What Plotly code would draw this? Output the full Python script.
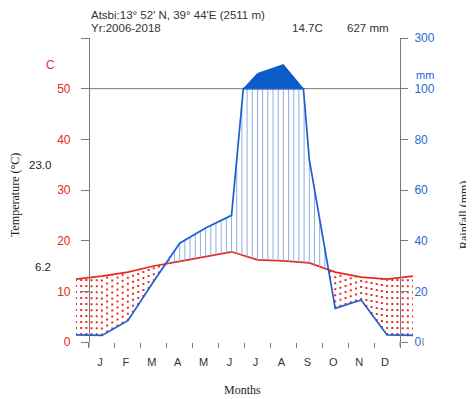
import numpy as np
import plotly.graph_objects as go

# ---------------- data ----------------
months = ["J", "F", "M", "A", "M", "J", "J", "A", "S", "O", "N", "D"]
temp_c = [13.0, 13.8, 15.0, 15.9, 16.9, 17.8, 16.2, 16.0, 15.6, 13.8, 12.8, 12.4]
rain_mm = [2.6, 8.4, 24, 39, 45, 50, 160, 195, 72, 13.3, 16.6, 2.8]
temp_ticks = [0, 10, 20, 30, 40, 50, 60]
rain_ticks = [0, 20, 40, 60, 80, 100, 300]
station = "Atsbi:13° 52' N, 39° 44'E (2511 m)"
period = "Yr:2006-2018"
mean_temp_label = "14.7C"
total_rain_label = "627 mm"
tmax_label = "23.0"
tmin_label = "6.2"

# ---------------- helpers ----------------
OFF = 8  # page body margin
W, H = 474, 399
ML, MT = 76 - OFF, 38 - OFF
PW, PH = 337, 304
MR = W - ML - PW
MB = H - MT - PH


def px(xp):
    return (xp - OFF - ML) / PW


def py(yp):
    return (MT + PH - (yp - OFF)) / PH


def rpos(p):
    # Walter-Lieth scale: above 100 mm compressed 1:10
    return p if p <= 100 else 100 + (p - 100) * 0.1


RED = "#e8281e"
BLUE = "#1d5fd0"
GRAY = "#7a7a7a"
DARK = "#222222"

# wrapped series (Dec before Jan, Jan after Dec)
xk = np.arange(0, 14, dtype=float)
tk = np.array([temp_c[-1]] + temp_c + [temp_c[0]], dtype=float)
pk = np.array([rain_mm[-1]] + rain_mm + [rain_mm[0]], dtype=float)

# interpolated hatch positions
xi = np.linspace(0, 13, 66)
pi = np.interp(xi, xk, pk)
ti2 = 2 * np.interp(xi, xk, tk)

hx, hy, dx, dy = [], [], [], []
for x, p, t in zip(xi, pi, ti2):
    if p > t:
        hx += [x, x, None]
        hy += [t, min(p, 100), None]
    else:
        dx += [x, x, None]
        dy += [p, t, None]

# precipitation line clipped at 100, with crossing points
lx, ly = [], []
poly_x, poly_y = [], []
for i in range(len(xk)):
    lx.append(xk[i])
    ly.append(min(pk[i], 100))
    if pk[i] > 100:
        poly_x.append(xk[i])
        poly_y.append(rpos(pk[i]))
    if i < len(xk) - 1 and (pk[i] - 100) * (pk[i + 1] - 100) < 0:
        xc = xk[i] + (100 - pk[i]) / (pk[i + 1] - pk[i])
        lx.append(xc)
        ly.append(100)
        poly_x.append(xc)
        poly_y.append(100)

fig = go.Figure()

fig.add_trace(go.Scatter(x=hx, y=hy, yaxis="y2", mode="lines",
                         line=dict(color="#8eaee3", width=1), hoverinfo="skip"))
fig.add_trace(go.Scatter(x=dx, y=dy, yaxis="y2", mode="lines",
                         line=dict(color="#e5302a", width=2, dash="2px,4px"),
                         hoverinfo="skip"))
fig.add_trace(go.Scatter(x=poly_x + [poly_x[0]], y=poly_y + [poly_y[0]], yaxis="y2",
                         mode="lines", fill="toself", fillcolor="#0b5cc9",
                         line=dict(color="#0b5cc9", width=1), hoverinfo="skip"))
fig.add_trace(go.Scatter(x=lx, y=ly, yaxis="y2", mode="lines",
                         line=dict(color=BLUE, width=1.7), hoverinfo="skip"))
fig.add_trace(go.Scatter(x=xk, y=tk, yaxis="y", mode="lines",
                         line=dict(color=RED, width=1.7), hoverinfo="skip"))

AX_L, AX_R = 0.5 / 13, 12.5 / 13

shapes = [
    dict(type="line", xref="x", yref="y2", x0=0.5, x1=12.5, y0=100, y1=100,
         line=dict(color=GRAY, width=1), layer="below"),
    dict(type="line", xref="paper", yref="paper", x0=AX_L, x1=AX_L,
         y0=0, y1=py(347), line=dict(color=GRAY, width=1)),
    dict(type="line", xref="paper", yref="paper", x0=AX_R, x1=AX_R,
         y0=0, y1=py(347), line=dict(color=GRAY, width=1)),
    dict(type="line", xref="paper", yref="paper", x0=px(423), x1=px(423),
         y0=py(338), y1=py(346), line=dict(color=GRAY, width=1)),
]

ann = []


def text(s, x, y, color=DARK, size=12, family="Liberation Sans, Arial", xanchor="left",
         angle=0):
    ann.append(dict(text=s, x=px(x), y=py(y), xref="paper", yref="paper",
                    showarrow=False, xanchor=xanchor, yanchor="middle",
                    textangle=angle, font=dict(color=color, size=size, family=family)))


text(station, 89, 15, color="#333", size=11.5)
text(period, 89, 28, color="#333", size=11.5)
text(mean_temp_label, 290, 28, color="#333", size=11.5)
text(total_rain_label, 345, 28, color="#333", size=11.5)
text("C", 50, 65, color=RED, size=12, xanchor="center")
text("mm", 425, 75, color=BLUE, size=11, xanchor="center")
text(tmax_label, 53, 165, color=DARK, size=11.5, xanchor="right")
text(tmin_label, 53, 267, color=DARK, size=11.5, xanchor="right")
text("Temperature (°C)", 15, 195, color=DARK, size=12,
     family="Liberation Serif, Times New Roman", xanchor="center", angle=-90)
text("Rainfall (mm)", 464, 215, color=DARK, size=12,
     family="Liberation Serif, Times New Roman", xanchor="center", angle=-90)
text("Months", 242, 390, color=DARK, size=12,
     family="Liberation Serif, Times New Roman", xanchor="center")

fig.update_layout(
    width=W, height=H,
    margin=dict(l=ML, r=MR, t=MT, b=MB, pad=0),
    paper_bgcolor="white", plot_bgcolor="white",
    showlegend=False,
    shapes=shapes, annotations=ann,
    xaxis=dict(range=[0, 13], showgrid=False, zeroline=False, showline=False,
               tickmode="array", tickvals=list(range(1, 13)), ticktext=months,
               ticks="", ticklabelstandoff=12, ticklabelshift=-2,
               tickfont=dict(size=11, color="#333", family="Liberation Sans, Arial"),
               minor=dict(tickmode="linear", tick0=0.5, dtick=1, ticks="outside",
                          ticklen=5, tickcolor=GRAY, tickwidth=1, showgrid=False)),
    yaxis=dict(range=[0, 60], anchor="free", position=AX_L,
               showgrid=False, zeroline=False, showline=True,
               linecolor=GRAY, linewidth=1, ticks="outside", ticklen=8,
               tickcolor=GRAY, tickmode="array", tickvals=temp_ticks,
               ticktext=[str(v) if v < 60 else "" for v in temp_ticks],
               ticklabelstandoff=8,
               tickfont=dict(size=12, color=RED, family="Liberation Sans, Arial")),
    yaxis2=dict(range=[0, 120], overlaying="y", side="right", anchor="free",
                position=AX_R, showgrid=False,
                zeroline=False, showline=True, linecolor=GRAY, linewidth=1,
                ticks="outside", ticklen=7, tickcolor=GRAY, tickmode="array",
                tickvals=[rpos(v) for v in rain_ticks],
                ticktext=[str(v) for v in rain_ticks], ticklabelstandoff=4,
                tickfont=dict(size=12, color="#2f68d0", family="Liberation Sans, Arial")),
)

fig.write_html("out.html")
